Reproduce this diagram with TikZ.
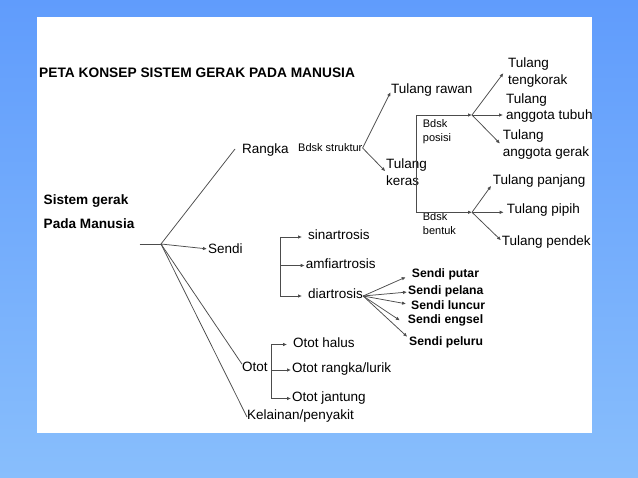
\documentclass[tikz,border=0pt]{standalone}
\usepackage{fontspec}
\setmainfont{Liberation Sans}
\usetikzlibrary{arrows.meta}
\definecolor{bgatas}{RGB}{96,156,252}
\definecolor{bgbawah}{RGB}{136,190,252}
\begin{document}
\begin{tikzpicture}[x=1pt, y=-1pt,
        teks/.style = {anchor=west, inner sep=0pt, yshift=-2pt, font=\fontsize{13.5}{16.5}\selectfont, text height=0.72em, text depth=0.21em},
        dua/.style = {anchor=west, inner sep=0pt, align=left, font=\fontsize{13.5}{16.5}\selectfont},
        kecil/.style = {anchor=west, inner sep=0pt, align=left, font=\fontsize{11}{13.7}\selectfont},
        sendi/.style = {teks, font=\bfseries\fontsize{12.2}{14}\selectfont},
        garis/.style = {draw=black!70, line width=0.75pt},
        pil/.style = {garis, -{Latex[length=4pt,width=3.5pt]}, shorten >=1pt},
        pildua/.style = {garis, {Latex[length=4pt,width=3.5pt]}-{Latex[length=4pt,width=3.5pt]}}]
            \useasboundingbox (0,0) rectangle (638,478);
            \shade[top color=bgatas, bottom color=bgbawah] (0,0) rectangle (638,478);
            \fill[white] (37.4,17.5) rectangle (592,433);
            \node[teks, font=\bfseries\fontsize{13.75}{16}\selectfont] (judul) at (39,73) {PETA KONSEP SISTEM GERAK PADA MANUSIA};
            \node[dua, font=\bfseries\fontsize{13.6}{24}\selectfont] (sistem) at (43.5,211.5) {Sistem gerak\\Pada Manusia};
            \node[teks] (rangka) at (242,149) {Rangka};
            \node[teks] (sendi) at (208,249) {Sendi};
            \node[teks] (otot) at (242,367) {Otot};
            \node[teks] (kelainan) at (247,415) {Kelainan/penyakit};
            \node[kecil] (struktur) at (298,148) {Bdsk struktur};
            \node[teks] (rawan) at (391,89.3) {Tulang rawan};
            \node[dua] (keras) at (386,172) {Tulang\\keras};
            \node[kecil] (posisi) at (422.7,131.7) {Bdsk\\posisi};
            \node[kecil] (bentuk) at (422.7,223.7) {Bdsk\\bentuk};
            \node[dua] (tengkorak) at (508,72.3) {Tulang\\tengkorak};
            \node[dua] (tubuh) at (506,108) {Tulang\\anggota tubuh};
            \node[dua] (gerak) at (502.7,144.3) {Tulang\\anggota gerak};
            \node[teks] (panjang) at (492.7,180) {Tulang panjang};
            \node[teks] (pipih) at (506.7,208.5) {Tulang pipih};
            \node[teks] (pendek) at (501.7,241) {Tulang pendek};
            \node[teks] (sinar) at (308,235) {sinartrosis};
            \node[teks] (amfi) at (305.7,263.5) {amfiartrosis};
            \node[teks] (diar) at (308,294) {diartrosis};
            \node[sendi] (putar) at (411.7,272.7) {Sendi putar};
            \node[sendi] (pelana) at (408,290) {Sendi pelana};
            \node[sendi] (luncur) at (411,305) {Sendi luncur};
            \node[sendi] (engsel) at (407.7,319) {Sendi engsel};
            \node[sendi] (peluru) at (409,340.5) {Sendi peluru};
            \node[teks] (halus) at (293,342.5) {Otot halus};
            \node[teks] (lurik) at (292,368) {Otot rangka/lurik};
            \node[teks] (jantung) at (292,396.5) {Otot jantung};
            \coordinate (akar) at (139.5,244);
            \coordinate (cabang) at (161,244);
            \coordinate (kA) at (416.7,115);
            \coordinate (kB) at (416.7,212.3);
            \coordinate (fA) at (472,115);
            \coordinate (fB) at (472,212.3);
            \coordinate (sb) at (280,265);
            \coordinate (ob) at (271,368);
            \draw[garis] (akar) -- (cabang);
            \draw[garis] (cabang) -- ([shift={(-7pt,2pt)}]rangka.west);
            \draw[pil] (cabang) -- ([yshift=2pt]sendi.west);
            \draw[garis] (cabang) -- (otot.north west);
            \draw[garis] (cabang) -- (kelainan.west);
            \draw[pil] (struktur.east) -- (rawan.west);
            \draw[pil] (struktur.east) -- (keras.west);
            \draw[pildua] (fA) -- (kA) -- (kB) -- (fB);
            \draw[pil] (fA) -- ([xshift=-4pt]tengkorak.west);
            \draw[pil, shorten >=3pt] (fA) -- (fA -| tubuh.west);
            \draw[pil] (fA) -- ([xshift=-2pt]gerak.west);
            \draw[pil] (fB) -- ([shift={(-1pt,-3pt)}]panjang.west);
            \draw[pil, shorten >=3pt] (fB) -- (fB -| pipih.west);
            \draw[pil] (fB) -- ([yshift=2pt]pendek.west);
            \draw[garis] (sb |- sinar.west) -- (sb |- diar.west);
            \draw[pil] (sb |- sinar.west) -- ([xshift=-5pt]sinar.west);
            \draw[pil] (sb |- amfi.west) -- (amfi.west);
            \draw[pil] (sb |- diar.west) -- ([xshift=-5pt]diar.west);
            \draw[pil] (diar.east) -- ([shift={(-5pt,-2pt)}]putar.west);
            \draw[pil] (diar.east) -- (pelana.west);
            \draw[pil] (diar.east) -- ([shift={(-4pt,3pt)}]luncur.west);
            \draw[pil] (diar.east) -- ([xshift=-7pt]engsel.west);
            \draw[pil] (diar.east) -- ([shift={(-1pt,5pt)}]peluru.west);
            \draw[garis] (ob |- halus.west) -- (ob |- jantung.west);
            \draw[pil] (ob |- halus.west) -- ([xshift=-5pt]halus.west);
            \draw[pil] (ob |- lurik.west) -- (lurik.west);
            \draw[pil] (ob |- jantung.west) -- (jantung.west);
        \end{tikzpicture}
\end{document}
